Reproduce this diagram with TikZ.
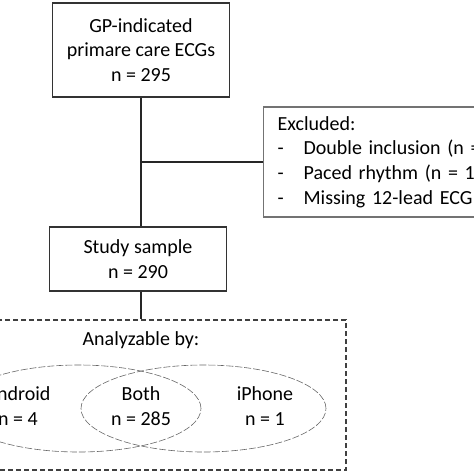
\documentclass[tikz,border=0pt]{standalone}
\usepackage{fontspec}
\setmainfont{Carlito}
\usetikzlibrary{positioning,shapes.geometric}

\begin{document}
\begin{tikzpicture}[x=1pt,y=-1pt,
 txt/.style={font=\fontsize{20}{24.7}\selectfont,align=center,inner sep=0pt},
 box/.style={txt,draw=black!80,line width=1.2pt},
 exclbox/.style={txt,draw=black!55,line width=1.2pt,align=left,text width=300pt,inner xsep=14pt,inner ysep=0pt,minimum height=110pt,anchor=west},
 dashbox/.style={draw=black!75,line width=1.1pt,dash pattern=on 5pt off 3pt,minimum width=410pt,minimum height=150pt},
 venn/.style={ellipse,draw=black!60,line width=0.6pt,dash pattern=on 7pt off 2pt,minimum width=245pt,minimum height=87pt,inner sep=0pt},
 link/.style={draw=black!85,line width=1.2pt}]
\useasboundingbox (0,0) rectangle (474,474);
\clip (0,0) rectangle (474,474);
\node[box,minimum width=177pt,minimum height=94pt] (gp) at (141,50) {GP-indicated\\primare care ECGs\\n = 295};
\node[box,minimum width=177pt,minimum height=64pt] (study) at (138,259) {Study sample\\n = 290};
\node[exclbox] (excl) at (263,162) {Excluded:\\
 \makebox[26pt][l]{-}Double inclusion (n = 3)\\
 \makebox[26pt][l]{-}Paced rhythm (n = 1)\\
 \makebox[26pt][l]{-}Missing 12-lead ECG (n = 1)};
\node[dashbox] (analyz) at (141,395) {};
\node[txt] (analyzlbl) at (141,340) {Analyzable by:};
\node[venn] (android) at (78.5,408.5) {};
\node[venn] (iphone) at (203.5,408.5) {};
\node[txt] (androidlbl) at (18,406) {Android\\n = 4};
\node[txt] (bothlbl) at (141,406) {Both\\n = 285};
\node[txt] (iphonelbl) at (265,406) {iPhone\\n = 1};
\draw[link] (gp.south) -- (gp.south |- study.north);
\draw[link] (excl.west) -- (excl.west -| gp.south);
\draw[link] (gp.south |- study.south) -- (gp.south |- analyz.north);
\end{tikzpicture}
\end{document}
